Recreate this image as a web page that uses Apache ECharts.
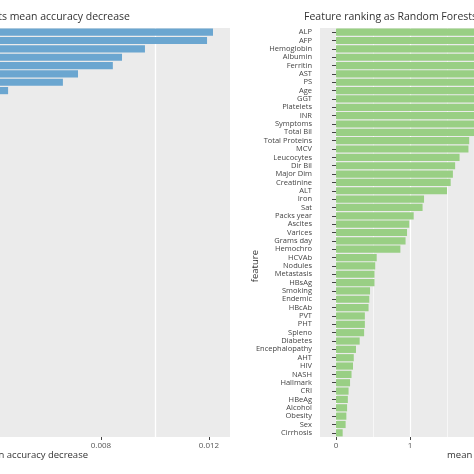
<!DOCTYPE html>
<html>
<head>
<meta charset="utf-8">
<script src="https://cdn.jsdelivr.net/npm/echarts@6/dist/echarts.min.js"></script>
<style>html,body{margin:0;padding:0;background:#fff}#main{width:474px;height:474px}</style>
</head>
<body>
<div id="main"></div>
<script>
var features = ['ALP','AFP','Hemoglobin','Albumin','Ferritin','AST','PS','Age','GGT','Platelets','INR','Symptoms','Total Bil','Total Proteins','MCV','Leucocytes','Dir Bil','Major Dim','Creatinine','ALT','Iron','Sat','Packs year','Ascites','Varices','Grams day','Hemochro','HCVAb','Nodules','Metastasis','HBsAg','Smoking','Endemic','HBcAb','PVT','PHT','Spleno','Diabetes','Encephalopathy','AHT','HIV','NASH','Hallmark','CRI','HBeAg','Alcohol','Obesity','Sex','Cirrhosis'];

// right panel: importance values (mean)
var rfValues = [2.6,2.55,2.5,2.45,2.4,2.35,2.3,2.25,2.2,2.15,2.1,2.0,1.9,1.8,1.79,1.67,1.61,1.58,1.55,1.5,1.19,1.17,1.05,0.99,0.96,0.94,0.87,0.55,0.53,0.52,0.52,0.46,0.45,0.44,0.39,0.39,0.38,0.32,0.27,0.24,0.23,0.21,0.19,0.17,0.16,0.15,0.14,0.13,0.09];

// left panel: mean accuracy decrease (only the top of the ranking is visible)
var accValues = [0.01215,0.01193,0.00963,0.00878,0.00844,0.00715,0.00659,0.00456,0.0042,0.0041,0.0040,0.0039,0.0038,0.0037,0.0036,0.0035,0.0034,0.0033,0.0032,0.0031,0.0030,0.0029,0.0028,0.0027,0.0026,0.0025,0.0024,0.0023,0.0022,0.0021,0.0020,0.0019,0.0018,0.0017,0.0016,0.0015,0.0014,0.0013,0.0012,0.0011,0.0010,0.0009,0.0008,0.0007,0.0006,0.0005,0.0004,0.0003,0.0002];

var accTicks = [0.008, 0.012];
var accMajor = [0.008, 0.012];
var accMinor = [0.006, 0.010];

var myChart = echarts.init(document.getElementById('main'));
myChart.setOption({
  backgroundColor: '#fff',
  animation: false,
  textStyle: { fontFamily: 'Open Sans' },
  grid: [
    { left: 0, width: 230, top: 28, bottom: 37, show: true, backgroundColor: '#ebebeb', borderWidth: 0 },
    { left: 336, right: 0, top: 28, bottom: 37, show: true, backgroundColor: '#ebebeb', borderWidth: 0 }
  ],
  graphic: [
    { type: 'rect', left: 320, top: 28, shape: { width: 16, height: 409 }, style: { fill: '#ebebeb' }, z: -1 },
    { type: 'text', right: 344, top: 12, style: { text: 'Feature ranking as Random Forests mean accuracy decrease', fill: '#333', font: '10.5px "Open Sans"' } },
    { type: 'text', left: 304, top: 12, style: { text: 'Feature ranking as Random Forests mean accuracy decrease', fill: '#333', font: '10.5px "Open Sans"' } },
    { type: 'text', right: 386, top: 450, style: { text: 'Random Forests mean accuracy decrease', fill: '#333', font: '9.5px "Open Sans"' } },
    { type: 'text', left: 447, top: 450, style: { text: 'mean accuracy decrease', fill: '#333', font: '9.5px "Open Sans"' } },
    { type: 'text', left: 250, top: 250, rotation: Math.PI / 2, style: { text: 'feature', fill: '#333', font: '9.5px "Open Sans"' } }
  ],
  xAxis: [
    {
      gridIndex: 0, type: 'value', min: 0.00426, max: 0.01278,
      axisLine: { show: false },
      axisTick: { show: true, length: 3, customValues: accTicks, lineStyle: { color: '#444' } },
      axisLabel: { fontSize: 8, color: '#555', margin: 5, customValues: accTicks, formatter: function (v) { return v.toFixed(3); } },
      splitLine: { show: false }
    },
    {
      gridIndex: 1, type: 'value', min: 0, max: 1.865, interval: 1,
      axisLine: { show: false },
      axisTick: { show: true, length: 3, lineStyle: { color: '#444' } },
      axisLabel: { fontSize: 8, color: '#555', margin: 5, showMaxLabel: false },
      splitLine: { lineStyle: { color: '#fff', width: 1.2 } },
      minorTick: { show: false, splitNumber: 2 },
      minorSplitLine: { show: true, lineStyle: { color: '#fff', width: 0.6 } }
    }
  ],
  yAxis: [
    {
      gridIndex: 0, type: 'category', data: features, inverse: true,
      axisLine: { show: false }, axisTick: { show: false }, axisLabel: { show: false },
      splitLine: { show: false }
    },
    {
      gridIndex: 1, type: 'category', data: features, inverse: true, offset: 16,
      axisLine: { show: false },
      axisTick: { show: true, alignWithLabel: true, length: 4, lineStyle: { color: '#444' } },
      axisLabel: { fontSize: 7.5, color: '#444', margin: 8, interval: 0 },
      splitLine: { show: false }
    }
  ],
  series: [
    {
      type: 'bar', xAxisIndex: 0, yAxisIndex: 0, data: accValues,
      barCategoryGap: '14%', itemStyle: { color: '#6ba6d0' },
      markLine: {
        silent: true, symbol: 'none', label: { show: false }, z: 1,
        data: accMajor.map(function (v) { return { xAxis: v, lineStyle: { color: '#fff', width: 1.2, type: 'solid' } }; })
          .concat(accMinor.map(function (v) { return { xAxis: v, lineStyle: { color: '#fff', width: 0.6, type: 'solid' } }; }))
      }
    },
    {
      type: 'bar', xAxisIndex: 1, yAxisIndex: 1, data: rfValues,
      barCategoryGap: '14%', itemStyle: { color: '#99cf84' }
    }
  ]
});
</script>
</body>
</html>
